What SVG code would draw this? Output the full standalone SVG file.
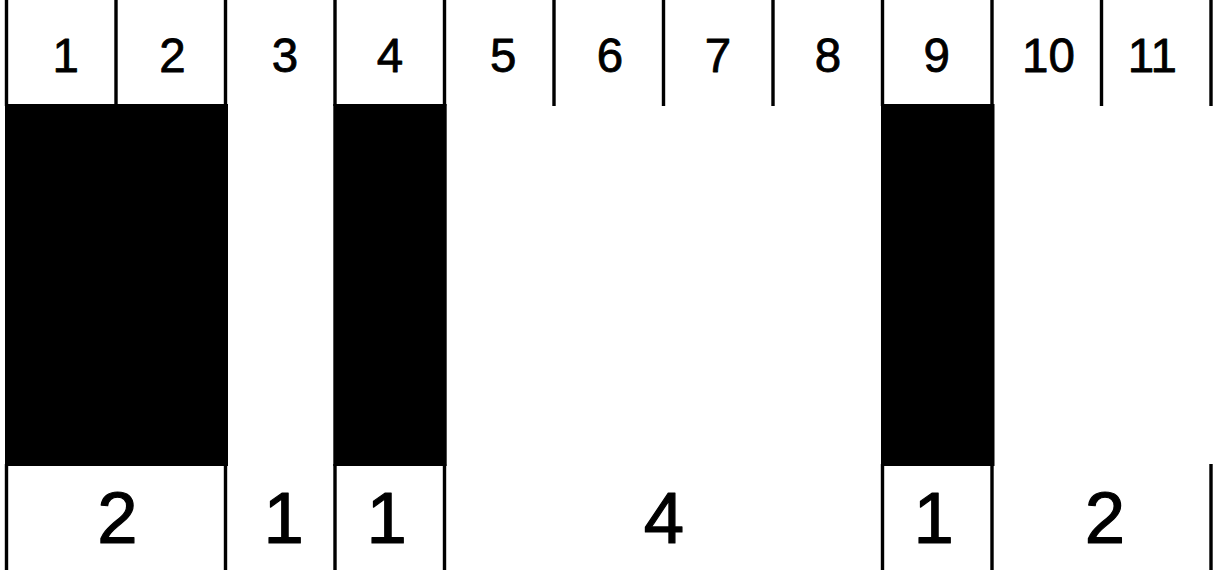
<svg xmlns="http://www.w3.org/2000/svg" width="1218" height="570" viewBox="0 0 1218 570">
<style>
.bg{fill:#ffffff}
.blk{fill:#000000}
.ln{stroke:#000000;stroke-width:3.4;fill:none}
.t{font-family:"Liberation Sans",Arial,sans-serif;fill:#000000;stroke:#000000;stroke-linejoin:round;text-anchor:middle}
.s{font-size:47.5px;stroke-width:0.8}
.b{font-size:72.5px;stroke-width:1.2}
</style>
<rect class="bg" x="0" y="0" width="1218" height="570"/>
<g id="blocks">
<rect class="blk" x="5" y="104" width="223" height="362"/>
<rect class="blk" x="333.3" y="104" width="113.4" height="362"/>
<rect class="blk" x="881" y="104" width="113.5" height="362"/>
</g>
<g id="connectors">
<path class="ln" d="M6.5,0V106 M116,0V106 M225.5,0V106 M335,0V106 M444.5,0V106 M554,0V106 M663.5,0V106 M773,0V106 M882.5,0V106 M992,0V106 M1101.5,0V106 M1211,0V106"/>
<path class="ln" d="M6.5,464V570 M225.5,464V570 M335,464V570 M444.5,464V570 M882.5,464V570 M992,464V570 M1211,464V570"/>
</g>
<g id="top-1"><text class="t s" x="65.8" y="71.6">1</text></g>
<g id="top-2"><text class="t s" x="172.5" y="71.6">2</text></g>
<g id="top-3"><text class="t s" x="285" y="71.6">3</text></g>
<g id="top-4"><text class="t s" x="390" y="71.6">4</text></g>
<g id="top-5"><text class="t s" x="503.3" y="71.6">5</text></g>
<g id="top-6"><text class="t s" x="610" y="71.6">6</text></g>
<g id="top-7"><text class="t s" x="718" y="71.6">7</text></g>
<g id="top-8"><text class="t s" x="828" y="71.6">8</text></g>
<g id="top-9"><text class="t s" x="936.7" y="71.6">9</text></g>
<g id="top-10"><text class="t s" x="1048.5" y="71.6">10</text></g>
<g id="top-11"><text class="t s" x="1152.3" y="71.6">11</text></g>
<g id="bottom-a"><text class="t b" x="117.5" y="542.5">2</text></g>
<g id="bottom-b"><text class="t b" x="283.7" y="542.5">1</text></g>
<g id="bottom-c"><text class="t b" x="386.7" y="542.5">1</text></g>
<g id="bottom-d"><text class="t b" x="664" y="542.5">4</text></g>
<g id="bottom-e"><text class="t b" x="933.7" y="542.5">1</text></g>
<g id="bottom-f"><text class="t b" x="1105" y="542.5">2</text></g>
</svg>
